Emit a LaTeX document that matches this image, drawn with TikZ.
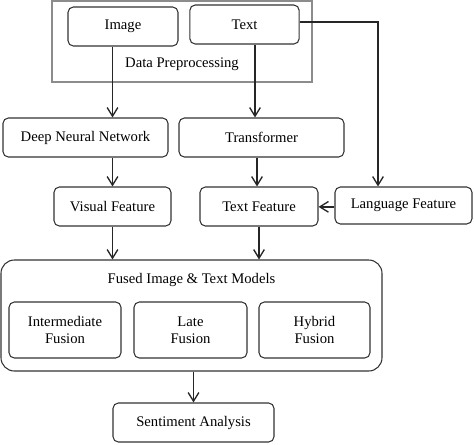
\documentclass[tikz,border=0pt]{standalone}
\usepackage{fontspec}
\setmainfont{Liberation Serif}
\usetikzlibrary{positioning,arrows.meta}

\tikzstyle{process} = [rectangle, rounded corners=4pt, minimum width=82pt, minimum height=29.25pt, text centered, draw=black!80, line width=0.8pt, fill=white, inner sep=2pt]
\tikzstyle{fusion} = [process, minimum width=84pt, minimum height=42pt, align=center]
\tikzstyle{group} = [rectangle, rounded corners=10pt, minimum width=285.75pt, minimum height=83.25pt, draw=black!80, line width=0.8pt]
\tikzstyle{prepbox} = [rectangle, minimum width=195pt, minimum height=60.9pt, draw=black!45, line width=1.1pt]
\tikzstyle{arrow} = [line width=1pt, draw=black!85, -{Straight Barb[length=6.5pt,width=8pt]}]

\begin{document}
\begin{tikzpicture}[node distance = 83.25pt, auto, font=\fontsize{11}{13}\selectfont]
	\useasboundingbox (0,0) rectangle (355.5pt,-333pt);
	% Place nodes
	\node [prepbox] (Prep) at (136.5pt,-31.05pt) {};
	\node (PrepLabel) at ([yshift=14.25pt]Prep.south) {Data Preprocessing};
	\node [process, minimum width=82.5pt] (Image) at (92.25pt,-19.875pt) {Image};
	\node [process, right of=Image, node distance=91.125pt, yshift=1.5pt] (Text) {Text};
	\node [process, below of=Image, minimum width=123.75pt, xshift=-28.125pt] (DNN) {Deep Neural Network};
	\node [process, right of=DNN, minimum width=123.75pt, node distance=132pt] (Transformer) {Transformer};
	\node [process, below of=DNN, minimum width=87.75pt, node distance=51.75pt, xshift=20.25pt] (Visual) {Visual Feature};
	\node [process, below of=Transformer, minimum width=88.5pt, node distance=51.75pt, xshift=-1.875pt] (TextFeat) {Text Feature};
	\node [process, right of=TextFeat, minimum width=102.75pt, minimum height=27.75pt, node distance=108.375pt, yshift=0.75pt] (Language) {Language Feature};
	\node [group, below of=Visual, node distance=81.75pt, xshift=59.25pt] (Fused) {};
	\node (FusedTitle) at ([yshift=-15.75pt]Fused.north) {Fused Image \& Text Models};
	\node [fusion, below of=Fused, node distance=10.875pt, xshift=-0.75pt, minimum width=84.75pt] (Late) {Late\\Fusion};
	\node [fusion, left of=Late, node distance=94.125pt] (Intermediate) {Intermediate\\Fusion};
	\node [fusion, right of=Late, node distance=93pt, minimum width=83.25pt] (Hybrid) {Hybrid\\Fusion};
	\node [process, below of=Fused, minimum width=120.75pt, node distance=80.25pt, xshift=1.5pt] (Sentiment) {Sentiment Analysis};
	% Draw edges
	\draw [arrow] (Image.south -| Visual.north) -- (DNN.north -| Visual.north);
	\draw [arrow] ([xshift=-3pt]Text.south -| TextFeat.north) -- ([xshift=-3pt]Transformer.north -| TextFeat.north);
	\draw [arrow] (DNN.south -| Visual.north) -- (Visual.north);
	\draw [arrow] ([xshift=-1.5pt]Transformer.south -| TextFeat.north) -- ([xshift=-1.5pt]TextFeat.north);
	\draw [arrow] ([yshift=2pt]Text.east) -| ([xshift=-19.125pt]Language.north);
	\draw [arrow] ([yshift=-1pt]Language.west) -- ([yshift=-1pt]Language.west -| TextFeat.east);
	\draw [arrow] (Visual.south) -- (Visual.south |- Fused.north);
	\draw [arrow] (TextFeat.south) -- (TextFeat.south |- Fused.north);
	\draw [arrow] (Fused.south -| Sentiment.north) -- (Sentiment.north);
\end{tikzpicture}
\end{document}
